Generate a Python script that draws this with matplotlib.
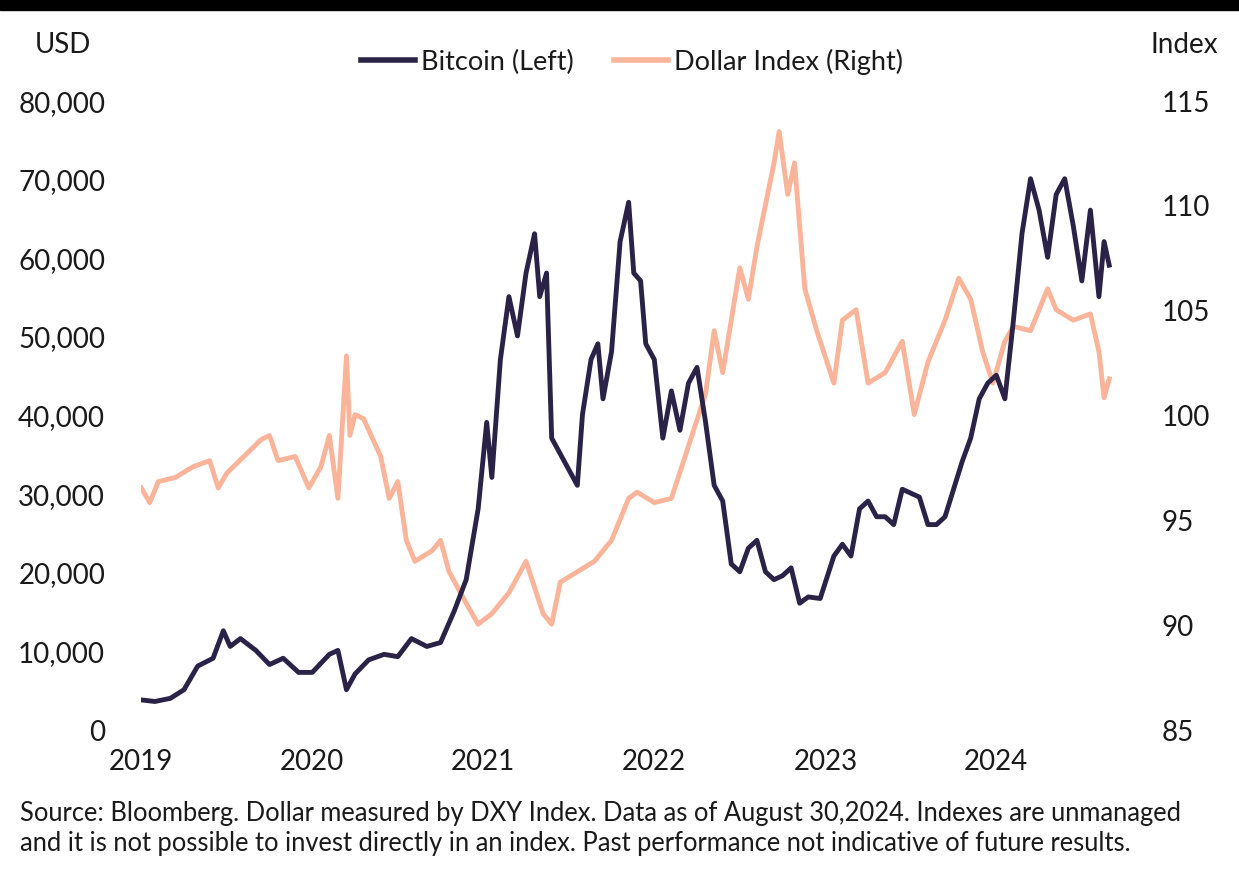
import matplotlib.pyplot as plt
import matplotlib.patches as mpatches
import numpy as np

# Bitcoin price (USD), sampled by year fraction
btc_t = [2019.0, 2019.08, 2019.17, 2019.25, 2019.33, 2019.42, 2019.48, 2019.52, 2019.58, 2019.67, 2019.75, 2019.83,
         2019.92, 2020.0, 2020.1, 2020.15, 2020.2, 2020.25, 2020.33, 2020.42, 2020.5, 2020.58, 2020.67, 2020.75,
         2020.83, 2020.9, 2020.97, 2021.02, 2021.05, 2021.1, 2021.15, 2021.2, 2021.25, 2021.3, 2021.33, 2021.37,
         2021.4, 2021.45, 2021.5, 2021.55, 2021.58, 2021.63, 2021.67, 2021.7, 2021.75, 2021.8, 2021.85, 2021.88,
         2021.92, 2021.95, 2022.0, 2022.05, 2022.1, 2022.15, 2022.2, 2022.25, 2022.3, 2022.35, 2022.4, 2022.45,
         2022.5, 2022.55, 2022.6, 2022.65, 2022.7, 2022.75, 2022.8, 2022.85, 2022.9, 2022.97, 2023.05, 2023.1,
         2023.15, 2023.2, 2023.25, 2023.3, 2023.35, 2023.4, 2023.45, 2023.55, 2023.6, 2023.65, 2023.7, 2023.8,
         2023.85, 2023.9, 2023.95, 2024.0, 2024.05, 2024.1, 2024.15, 2024.2, 2024.25, 2024.3, 2024.35, 2024.4,
         2024.45, 2024.5, 2024.55, 2024.6, 2024.63, 2024.66]
btc_v = [3700, 3500, 3900, 5000, 8000, 9000, 12500, 10500, 11500, 10000, 8200, 9000,
         7200, 7200, 9500, 10000, 5000, 7000, 8800, 9500, 9200, 11500, 10500, 11000,
         15000, 19000, 28000, 39000, 32000, 47000, 55000, 50000, 58000, 63000, 55000, 58000,
         37000, 35000, 33000, 31000, 40000, 47000, 49000, 42000, 48000, 62000, 67000, 58000,
         57000, 49000, 47000, 37000, 43000, 38000, 44000, 46000, 39000, 31000, 29000, 21000,
         20000, 23000, 24000, 20000, 19000, 19500, 20500, 16000, 16800, 16600, 22000, 23500,
         22000, 28000, 29000, 27000, 27000, 26000, 30500, 29500, 26000, 26000, 27000, 34000,
         37000, 42000, 44000, 45000, 42000, 52000, 63000, 70000, 66000, 60000, 68000, 70000,
         64000, 57000, 66000, 55000, 62000, 59000]

# Dollar index (DXY)
dxy_t = [2019.0, 2019.05, 2019.1, 2019.2, 2019.3, 2019.4, 2019.45, 2019.5, 2019.6, 2019.7, 2019.75, 2019.8,
         2019.9, 2019.98, 2020.05, 2020.1, 2020.15, 2020.2, 2020.22, 2020.25, 2020.3, 2020.4, 2020.45, 2020.5,
         2020.55, 2020.6, 2020.7, 2020.75, 2020.8, 2020.9, 2020.97, 2021.05, 2021.15, 2021.25, 2021.35, 2021.4,
         2021.45, 2021.55, 2021.65, 2021.75, 2021.85, 2021.9, 2022.0, 2022.1, 2022.2, 2022.3, 2022.35, 2022.4,
         2022.45, 2022.5, 2022.55, 2022.6, 2022.7, 2022.73, 2022.78, 2022.82, 2022.88, 2022.95, 2023.05, 2023.1,
         2023.18, 2023.25, 2023.35, 2023.45, 2023.52, 2023.6, 2023.7, 2023.78, 2023.85, 2023.92, 2023.98, 2024.05,
         2024.1, 2024.2, 2024.3, 2024.35, 2024.45, 2024.55, 2024.6, 2024.63, 2024.66]
dxy_v = [96.5, 95.8, 96.8, 97, 97.5, 97.8, 96.5, 97.2, 98, 98.8, 99, 97.8,
         98, 96.5, 97.5, 99, 96, 102.8, 99, 100, 99.8, 98, 96, 96.8,
         94, 93, 93.5, 94, 92.5, 91, 90, 90.5, 91.5, 93, 90.5, 90,
         92, 92.5, 93, 94, 96, 96.3, 95.8, 96, 98.5, 101, 104, 102,
         104.5, 107, 105.5, 108, 112, 113.5, 110.5, 112, 106, 104, 101.5, 104.5,
         105, 101.5, 102, 103.5, 100, 102.5, 104.5, 106.5, 105.5, 103, 101.5, 103.5,
         104.2, 104, 106, 105, 104.5, 104.8, 103, 100.8, 101.7]

btc_color = '#2b2347'
dxy_color = '#f9b49a'
txt = '#1a1a1a'

plt.rcParams['font.family'] = ['Lato', 'DejaVu Sans']

fig = plt.figure(figsize=(12.39, 8.79), dpi=100)
fig.patches.append(mpatches.Rectangle((0, 0.988), 1, 0.012, transform=fig.transFigure, color='black'))

ax = fig.add_axes([0.114, 0.1695, 0.784, 0.7155])
ax2 = ax.twinx()
ax.set_zorder(2)
ax.patch.set_visible(False)

ax2.plot(dxy_t, dxy_v, color=dxy_color, lw=3.5)
ax.plot(btc_t, btc_v, color=btc_color, lw=3.5)

ax.set_xlim(2019, 2024.68)
ax.set_ylim(0, 80000)
ax2.set_ylim(85, 115)
ax.set_yticks(np.arange(0, 80001, 10000))
ax.set_yticklabels([f'{v:,}' for v in range(0, 80001, 10000)])
ax2.set_yticks(range(85, 116, 5))
ax.set_xticks(range(2019, 2025))

for a in (ax, ax2):
    for s in a.spines.values():
        s.set_visible(False)
    a.tick_params(length=0, labelsize=20, colors=txt)
ax.tick_params(axis='y', pad=26)
ax.tick_params(axis='x', pad=14)
ax2.tick_params(axis='y', pad=35)

fig.text(0.028, 0.94, 'USD', fontsize=20, color=txt)
fig.text(0.983, 0.94, 'Index', fontsize=20, color=txt, ha='right')

h1, = ax.plot([], [], color=btc_color, lw=4, label='Bitcoin (Left)')
h2, = ax.plot([], [], color=dxy_color, lw=4, label='Dollar Index (Right)')
fig.legend(handles=[h1, h2], loc='center', bbox_to_anchor=(0.51, 0.929), ncol=2, frameon=False,
           fontsize=19.5, handlelength=2.0, handletextpad=0.2, columnspacing=1.5, labelcolor=txt)

fig.text(0.016, 0.026, 'Source: Bloomberg. Dollar measured by DXY Index. Data as of August 30,2024. Indexes are unmanaged\n'
         'and it is not possible to invest directly in an index. Past performance not indicative of future results.',
         fontsize=18.4, color=txt, va='bottom', linespacing=1.25)

fig.savefig('out.png', dpi=100, facecolor='white')
